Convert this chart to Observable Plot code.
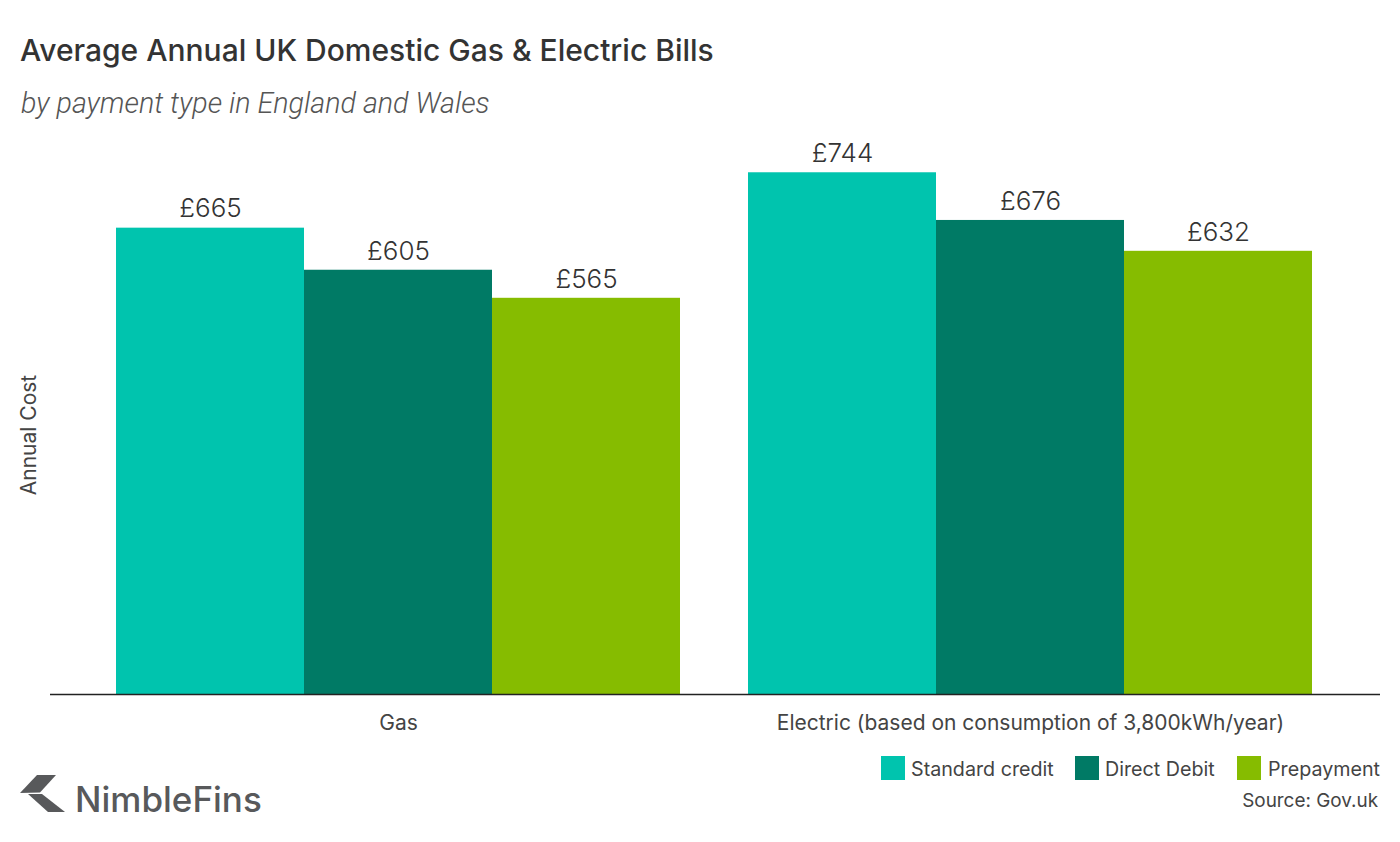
<!DOCTYPE html>
<html>
<head>
<meta charset="utf-8">
<script src="https://cdn.jsdelivr.net/npm/d3@7"></script>
<script src="https://cdn.jsdelivr.net/npm/@observablehq/plot@0.6"></script>
<style>
html,body{margin:0;padding:0;background:#fff;}
body{width:1400px;height:842px;position:relative;overflow:hidden;font-family:Inter,"Noto Sans",sans-serif;color:#333;}
.abs{position:absolute;white-space:nowrap;}
#title{left:20px;top:32px;font-size:30px;font-weight:500;line-height:36px;color:#333;}
#subtitle{left:21px;top:85px;font-family:Roboto,Inter,sans-serif;font-size:28.7px;font-weight:300;font-style:italic;line-height:36px;color:#555;}
#chart{left:0;top:130px;}
#chart svg{display:block;}
.leg{top:756px;height:25px;line-height:26px;font-size:19.7px;color:#444;display:flex;}
.swatch{position:absolute;top:756px;width:24px;height:24px;}
#source{right:22px;top:788px;font-size:18.9px;line-height:26px;color:#444;}
#brand{left:75px;top:776px;font-size:35px;font-weight:500;line-height:46px;color:#58595b;}
#mark{left:20px;top:775px;}
</style>
</head>
<body>
<div class="abs" id="title">Average Annual UK Domestic Gas &amp; Electric Bills</div>
<div class="abs" id="subtitle">by payment type in England and Wales</div>
<div class="abs" id="chart"></div>
<div id="legend"></div>
<div class="abs" id="source">Source: Gov.uk</div>
<svg class="abs" id="mark" width="46" height="38" viewBox="0 0 46 38"><polygon fill="#58595b" points="0,18 17,0 36,0 20,17.5"/><polygon fill="#58595b" points="8,19 22,19 45,37 28,37"/></svg>
<div class="abs" id="brand">NimbleFins</div>
<script>
const categories = ["Gas", "Electric (based on consumption of 3,800kWh/year)"];
const paymentTypes = ["Standard credit", "Direct Debit", "Prepayment"];
const gasValues = [665, 605, 565];
const electricValues = [744, 676, 632];
const colors = ["#00c4ae", "#007a65", "#86bc00"];
const legendLeft = [881, 1075, 1237];
const labelLeft = [911, 1105, 1268];

const rows = [gasValues, electricValues].flatMap((vals, i) =>
  vals.map((value, j) => ({category: categories[i], type: paymentTypes[j], value})));

const textFont = "Inter, 'Noto Sans', sans-serif";
const chart = Plot.plot({
  width: 1400,
  height: 610,
  marginLeft: 48,
  marginRight: 21,
  marginTop: 3,
  marginBottom: 46,
  style: {background: "transparent", fontFamily: textFont, overflow: "visible"},
  fx: {domain: categories, paddingInner: 68 / 632, paddingOuter: 67.5 / 632, label: null, axis: null},
  x: {domain: paymentTypes, axis: null, padding: 0},
  y: {domain: [0, 800], axis: null},
  color: {domain: paymentTypes, range: colors},
  marks: [
    Plot.barY(rows, {fx: "category", x: "type", y: "value", fill: "type"}),
    Plot.text(rows, {fx: "category", x: "type", y: "value", text: d => "£" + d.value, dy: -19, fontSize: 26, fontWeight: 300, fill: "#333"}),
    Plot.ruleY([0], {fx: () => categories[0], insetLeft: -66, insetRight: -34, stroke: "#222", strokeWidth: 1.4}),
    Plot.ruleY([0], {fx: () => categories[1], insetLeft: -34, insetRight: -68, stroke: "#222", strokeWidth: 1.4}),
    Plot.axisFx({anchor: "bottom", tickSize: 0, tickPadding: 21, fontSize: 21, fill: "#444", fontWeight: 400, label: null}),
    Plot.text(["Annual Cost"], {fx: () => categories[0], frameAnchor: "left", textAnchor: "middle", rotate: -90, dx: -87, dy: 21, fontSize: 21, fill: "#444"})
  ]
});
document.getElementById("chart").appendChild(chart);

const legend = document.getElementById("legend");
paymentTypes.forEach((t, i) => {
  const s = document.createElement("div");
  s.className = "swatch";
  s.style.left = legendLeft[i] + "px";
  s.style.background = colors[i];
  legend.appendChild(s);
  const l = document.createElement("div");
  l.className = "abs leg";
  l.style.left = labelLeft[i] + "px";
  l.textContent = t;
  legend.appendChild(l);
});
</script>
</body>
</html>
